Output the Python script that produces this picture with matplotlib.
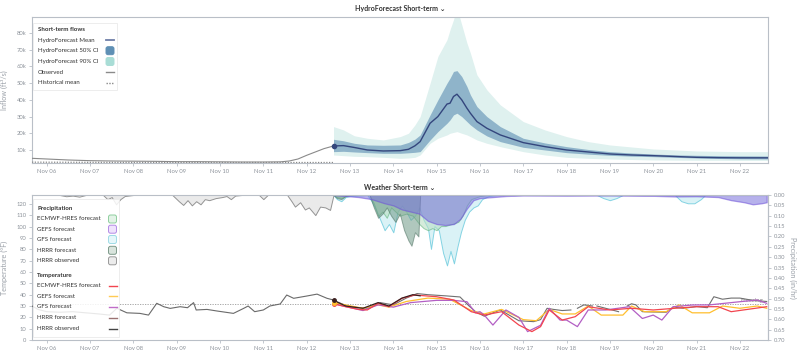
import matplotlib
matplotlib.use('Agg')
import matplotlib.pyplot as plt
import numpy as np
from matplotlib.lines import Line2D
from matplotlib.patches import Rectangle, FancyBboxPatch
from matplotlib.transforms import IdentityTransform
from matplotlib.ticker import FixedLocator, FuncFormatter

plt.rcParams['font.family'] = ['Lato', 'DejaVu Sans']

# ------------------------------------------------------------------ data
day_ticks = list(range(6, 23))
day_labels = [f"Nov {d:02d}" for d in day_ticks]
x_range = (5.66, 22.65)

# --- flows (ft3/s)
obs_flow_t = [5.66, 6.0, 6.5, 7.0, 7.5, 8.0, 8.5, 9.0, 9.5, 10.0, 10.5, 11.0, 11.4,
              11.6, 11.8, 12.0, 12.2, 12.4, 12.62]
obs_flow_v = [5000, 4600, 4000, 3600, 3400, 3300, 3200, 3000, 3000, 2900, 2800, 2800,
              2900, 3400, 4600, 6800, 8800, 10800, 12400]

hist_t = [5.66, 7.0, 8.5, 10.0, 11.5, 12.62]
hist_v = [2700, 2600, 2550, 2500, 2500, 2500]

fc_t = [12.62, 12.85, 13.1, 13.4, 13.77, 14.16, 14.35, 14.5, 14.62, 14.85, 15.03, 15.24,
        15.31, 15.39, 15.47, 15.58, 15.7, 15.78, 15.93, 16.16, 16.47, 17.0, 17.5, 18.0,
        18.5, 19.0, 19.5, 20.0, 20.5, 21.0, 21.5, 22.0, 22.65]
fc_mean = [12.4, 12.6, 11.5, 10.0, 9.4, 9.6, 10.4, 12.5, 15, 26, 30, 37.5, 38, 42, 43.4,
           40, 35, 32, 27, 23, 19, 14.4, 12, 10, 8.8, 7.6, 7.0, 6.6, 6.1, 5.6, 5.4, 5.3,
           5.3]
fc_p50_hi = [16.4, 15.5, 14, 13, 12.8, 13, 14.5, 16.5, 19, 31, 40, 50, 53, 57, 57.5, 54,
             48, 43, 36, 30, 24, 17, 14.2, 12, 10.3, 9.0, 8.2, 7.6, 7.1, 6.8, 6.6, 6.5,
             6.4]
fc_p50_lo = [9.0, 9.2, 8.8, 8.4, 8.0, 8.0, 8.3, 8.6, 9.0, 16, 21, 26, 28, 31, 32, 30, 27,
             25, 22, 18.4, 15, 11.6, 10, 8.4, 7.5, 6.8, 6.3, 6.0, 5.6, 5.2, 4.9, 4.7, 4.6]
fc_p90_hi = [24, 22, 18.5, 17, 16, 18, 20, 25, 30, 50, 66, 76, 82, 88, 95, 85, 74, 68, 55,
             46, 37, 27, 22, 18, 15, 13, 11.8, 10.6, 10, 9.4, 9.2, 9.0, 9.0]
fc_p90_lo = [7.0, 6.6, 6.2, 6.0, 5.6, 5.0, 5.2, 5.6, 7, 14, 17, 19, 20, 20.5, 21, 20, 19,
             18, 16, 14, 12, 9, 7, 5.6, 5.0, 4.6, 4.3, 4.0, 3.9, 3.8, 3.8, 3.7, 3.7]
flow_ticks = [10000, 20000, 30000, 40000, 50000, 60000, 70000, 80000]

# --- precipitation (in/hr)
hrrr_obs_p_t = [5.66, 6.3, 6.45, 6.6, 6.75, 6.9, 7.3, 7.4, 7.5, 7.6, 7.7, 7.8, 8.0, 8.9,
                9.05, 9.15, 9.25, 9.35, 9.45, 9.55, 9.65, 9.75, 9.9, 10.05, 10.15, 10.25,
                10.35, 10.5, 10.9, 11.0, 11.1, 11.55, 11.65, 11.73, 11.85, 11.96, 12.05,
                12.2, 12.31, 12.43, 12.54, 12.62]
hrrr_obs_p_v = [0, 0, 0.006, 0.003, 0.008, 0, 0, 0.02, 0.01, 0.045, 0.02, 0.005, 0, 0,
                0.03, 0.048, 0.025, 0.05, 0.03, 0.045, 0.02, 0.025, 0.015, 0.01, 0.005,
                0.02, 0.003, 0, 0, 0.02, 0, 0, 0.03, 0.056, 0.035, 0.07, 0.06, 0.097,
                0.056, 0.06, 0.072, 0]

gfs_p_t = [12.62, 12.7, 12.8, 12.9, 13.0, 13.4, 13.5, 13.6, 13.7, 13.8, 13.9, 14.0, 14.1,
           14.2, 14.3, 14.4, 14.5, 14.6, 14.7, 14.8, 14.87, 14.95, 15.05, 15.15, 15.24,
           15.32, 15.4, 15.48, 15.56, 15.65, 15.75, 15.85, 15.95, 16.05, 16.2, 16.4, 18.7,
           18.85, 19.0, 19.15, 19.3, 20.5, 20.65, 20.8, 20.95, 21.1, 21.2, 22.62]
gfs_p_v = [0, 0.02, 0.03, 0.01, 0.005, 0, 0.03, 0.07, 0.12, 0.17, 0.14, 0.18, 0.08, 0.05,
           0.08, 0.12, 0.1, 0.06, 0.12, 0.16, 0.26, 0.15, 0.17, 0.28, 0.34, 0.27, 0.33,
           0.25, 0.18, 0.12, 0.08, 0.06, 0.05, 0.02, 0.005, 0, 0, 0.015, 0.025, 0.015, 0,
           0, 0.03, 0.04, 0.04, 0.02, 0, 0]

ecmwf_p_t = [12.62, 12.7, 12.8, 12.9, 13.0, 13.45, 13.55, 13.65, 13.75, 13.85, 13.95,
             14.05, 14.15, 14.3, 14.45, 14.6, 14.7, 14.8, 14.9, 15.0, 15.1, 15.2, 15.35,
             15.5, 15.6, 15.7, 15.8, 16.0, 16.2, 22.62]
ecmwf_p_v = [0, 0.01, 0.015, 0.005, 0, 0, 0.04, 0.1, 0.08, 0.11, 0.06, 0.08, 0.1, 0.09,
             0.1, 0.14, 0.16, 0.17, 0.16, 0.17, 0.15, 0.15, 0.14, 0.13, 0.1, 0.05, 0.02,
             0.005, 0, 0]

hrrr_fc_p_t = [12.62, 12.7, 12.8, 12.9, 13.0, 13.45, 13.55, 13.65, 13.75, 13.85, 13.95,
               14.05, 14.15, 14.25, 14.35, 14.42, 14.5, 14.58, 14.62]
hrrr_fc_p_v = [0, 0.015, 0.02, 0.005, 0, 0, 0.06, 0.11, 0.09, 0.06, 0.1, 0.13, 0.09,
               0.17, 0.22, 0.245, 0.18, 0.2, 0]

gefs_p_t = [12.62, 12.8, 13.2, 13.5, 13.8, 14.0, 14.2, 14.4, 14.6, 14.8, 15.0, 15.2,
            15.4, 15.55, 15.7, 15.85, 16.0, 16.3, 16.6, 17.0, 18.0, 19.0, 20.0, 20.5,
            21.0, 21.5, 21.8, 22.1, 22.3, 22.5, 22.62]
gefs_p_v = [0, 0.003, 0.01, 0.02, 0.04, 0.05, 0.07, 0.08, 0.09, 0.125, 0.14, 0.145,
            0.14, 0.115, 0.065, 0.025, 0.015, 0.01, 0.005, 0.002, 0.003, 0.002, 0.004,
            0.007, 0.006, 0.01, 0.025, 0.035, 0.045, 0.04, 0.035]

# --- temperature (°F)
hrrr_obs_T_t = [5.66, 5.8, 6.0, 6.3, 6.6, 6.9, 7.2, 7.45, 7.62, 7.85, 8.15, 8.35, 8.54,
                8.7, 8.85, 9.08, 9.25, 9.39, 9.45, 9.7, 9.93, 10.31, 10.55, 10.65, 10.8,
                11.0, 11.15, 11.39, 11.54, 11.7, 12.0, 12.24, 12.47, 12.62]
hrrr_obs_T_v = [30, 27, 25, 24.5, 25, 24, 23, 22, 28, 24, 23.5, 22, 32.4, 29.4, 27.9,
                29.4, 28.5, 33, 26.5, 27, 25.6, 23.5, 28, 30, 25, 26.5, 30, 31.8, 39.7,
                36.8, 38.8, 40.5, 36.8, 35.3]

other_T_t = [12.62, 13.0, 13.4, 13.7, 14.0, 14.3, 14.55, 14.8, 15.2, 15.54, 15.75, 15.9,
             16.1, 16.47, 16.9, 17.24, 17.4, 17.55, 17.7, 17.9, 18.1, 18.15, 18.25, 18.4,
             18.6, 18.65, 18.7, 18.9, 19.2, 19.3, 19.4, 19.5, 19.6, 19.75, 20.0, 20.3,
             20.46, 20.7, 21.0, 21.25, 21.4, 21.6, 21.8, 22.0, 22.3, 22.62]
other_T_v = [35, 29, 28, 33, 31, 37, 41, 40, 39, 38, 30, 25, 21, 26.5, 17, 16.2, 18, 28,
             27, 26, 26.5, np.nan, 28, 31, 30, np.nan, 30, 28, 25, np.nan, 30, 32, 31,
             25, 24.7, 24.5, 29, 28, 29.5, 28.5, 38.2, 36, 37, 37, 35, 34]

ecmwf_T_t = [12.62, 12.9, 13.2, 13.4, 13.65, 13.9, 14.2, 14.5, 15.0, 15.4, 15.8, 16.1,
             16.5, 16.9, 17.2, 17.4, 17.6, 17.9, 18.2, 18.5, 19.0, 19.5, 20.0, 20.5, 21.0,
             21.5, 21.8, 22.62]
ecmwf_T_v = [32, 29.4, 27, 26.5, 32.4, 29.4, 36.8, 39.7, 38.2, 35.3, 25, 22, 25, 13.2,
             7.4, 11.8, 26.5, 17.6, 20.6, 29.4, 26.5, 28, 26.5, 28, 29.4, 29.4, 25, 29.4]

gefs_T_t = [12.62, 13.3, 13.65, 13.9, 14.3, 14.8, 15.3, 15.8, 16.1, 16.5, 17.0, 17.3,
            17.6, 17.9, 18.2, 18.5, 18.8, 19.3, 19.5, 19.8, 20.3, 20.6, 20.9, 21.3, 21.6,
            22.0, 22.4, 22.62]
gefs_T_v = [33, 28, 31, 29, 34, 37, 36, 26, 23, 27, 18, 17, 27, 23, 23, 30, 22, 22, 30,
            25, 25, 31, 24, 24, 30, 28, 30, 28]

gfs_T_t = [12.62, 13.3, 13.65, 14.0, 14.4, 15.0, 15.4, 15.7, 15.9, 16.0, 16.1, 16.3,
           16.6, 16.9, 17.1, 17.4, 17.6, 17.85, 18.0, 18.25, 18.5, 18.9, 19.45, 19.75,
           20.0, 20.2, 20.46, 20.9, 21.3, 22.0, 22.4, 22.62]
gfs_T_v = [32, 26, 31, 29, 33, 35, 35, 33.8, 24, 25, 22, 13.2, 26.5, 20, 7.4, 13, 28,
           17.6, 17.6, 11.8, 26.5, 26.5, 29.4, 19, 22, 17.6, 29.4, 30.9, 31, 33.8, 35.3,
           32.4]

hrrr_fc_T_t = [12.62, 12.9, 13.3, 13.65, 13.9, 14.2, 14.45, 14.62]
hrrr_fc_T_v = [35, 30, 28, 33, 30, 37, 40, 39]

temp_ticks = list(range(0, 121, 10))
precip_ticks = [round(0.05 * i, 2) for i in range(15)]
freezing_T = 32

top_legend_title = 'Short-term flows'
top_legend_labels = ['HydroForecast Mean', 'HydroForecast 50% CI', 'HydroForecast 90% CI',
                     'Observed', 'Historical mean']
bot_legend_prec = ['ECMWF-HRES forecast', 'GEFS forecast', 'GFS forecast',
                   'HRRR forecast', 'HRRR observed']
bot_legend_temp = ['ECMWF-HRES forecast', 'GEFS forecast', 'GFS forecast',
                   'HRRR forecast', 'HRRR observed']

# ------------------------------------------------------------------ style
W, H = 800, 359
fig = plt.figure(figsize=(W / 100, H / 100), dpi=100)
spine_c = '#b9bfc7'
tick_c = '#8c929a'
lab_c = '#9aa0a8'
txt_c = '#333333'
fs_tick = 4.2
fs_leg = 4.45
PIX = IdentityTransform()


def px_axes(l, t, r, b):
    return fig.add_axes([l / W, 1 - b / H, (r - l) / W, (b - t) / H])


def style_axes(ax):
    for s in ax.spines.values():
        s.set_color(spine_c)
        s.set_linewidth(0.8)
    ax.tick_params(axis='both', colors=spine_c, labelcolor=tick_c, labelsize=fs_tick,
                   length=2.5, width=0.6, pad=1.5)
    ax.set_xlim(*x_range)
    ax.xaxis.set_major_locator(FixedLocator(day_ticks))
    ax.set_xticklabels(day_labels)


def leg_box(x0, y0, x1, y1, alpha):
    fig.add_artist(Rectangle((x0, H - y1), x1 - x0, y1 - y0, transform=PIX,
                             facecolor=(1, 1, 1, alpha), edgecolor='#eaeaea', lw=0.6,
                             zorder=10))


def leg_text(x, y, s, bold=False):
    fig.text(x / W, 1 - y / H, s, ha='left', va='center', fontsize=fs_leg,
             fontweight='bold' if bold else 'normal', color=txt_c, zorder=11)


def leg_square(cx, cy, fc, ec, size=8, lw=0.7):
    fig.add_artist(FancyBboxPatch((cx - size / 2, H - cy - size / 2), size, size,
                                  boxstyle='round,pad=0,rounding_size=2', transform=PIX,
                                  facecolor=fc, edgecolor=ec, lw=lw, zorder=11))


def leg_line(cx, cy, color, ls='-', lw=1.0, half=4):
    fig.add_artist(Line2D([cx - half, cx + half], [H - cy, H - cy], transform=PIX,
                          color=color, lw=lw, ls=ls, zorder=11))


# ------------------------------------------------------------------ top panel
ax1 = px_axes(32, 17, 768, 163)
style_axes(ax1)
fk = [v * 1000 for v in fc_mean]
ax1.fill_between(fc_t, [v * 1000 for v in fc_p90_lo], [v * 1000 for v in fc_p90_hi],
                 color='#dff1ef', lw=0, zorder=1)
ax1.fill_between(fc_t, [v * 1000 for v in fc_p50_lo], [v * 1000 for v in fc_p50_hi],
                 color='#8fb4ca', lw=0, zorder=2)
ax1.plot(hist_t, hist_v, color='#8a8a8a', lw=0.9, ls=(0, (1, 1.2)), zorder=3)
ax1.plot(obs_flow_t, obs_flow_v, color='#8a8a8a', lw=0.8, zorder=4)
ax1.plot(fc_t, fk, color='#34467d', lw=1.0, zorder=5)
ax1.plot(fc_t[:1], fk[:1], 'o', color='#34467d', ms=3, zorder=6)
ax1.set_ylim(2200, 89600)
ax1.yaxis.set_major_locator(FixedLocator(flow_ticks))
ax1.yaxis.set_major_formatter(FuncFormatter(lambda v, p: f"{v / 1000:.0f}k"))
ax1.set_ylabel('Inflow (ft³/s)', color=lab_c, fontsize=5.2, labelpad=6)

leg_box(33, 23, 117, 90, 1.0)
leg_text(38, 29.5, top_legend_title, bold=True)
rows = [40.3, 50.7, 61.5, 72.3, 83.0]
for y, lab in zip(rows, top_legend_labels):
    leg_text(38, y, lab)
leg_line(110, rows[0], '#6f7fa8', lw=1.3)
leg_square(110, rows[1], '#5f90b5', '#5f90b5')
leg_square(110, rows[2], '#a9ddd6', '#a9ddd6')
leg_line(110, rows[3], '#8a8a8a', lw=1.0)
leg_line(110, rows[4], '#8a8a8a', ls=(0, (1, 1)), lw=1.0)

fig.text(0.5, 1 - 8 / H, 'HydroForecast Short-term ⌄', ha='center', va='center',
         fontsize=5.0, fontweight='bold', color=txt_c)

# ------------------------------------------------------------------ bottom panel
ax2 = px_axes(32, 195, 768, 340)
style_axes(ax2)
ax2.set_ylim(0, 128)
ax2.yaxis.set_major_locator(FixedLocator(temp_ticks))
ax2.set_ylabel('Temperature (°F)', color=lab_c, fontsize=5.2, labelpad=6)

ax3 = ax2.twinx()
for s in ax3.spines.values():
    s.set_visible(False)
ax3.spines['right'].set_visible(True)
ax3.spines['right'].set_color(spine_c)
ax3.spines['right'].set_linewidth(0.8)
ax3.tick_params(axis='y', colors=spine_c, labelcolor=tick_c, labelsize=fs_tick,
                length=2.5, width=0.6, pad=1.5)
ax3.set_ylim(0.70, 0.0)
ax3.yaxis.set_major_locator(FixedLocator(precip_ticks))
ax3.yaxis.set_major_formatter(FuncFormatter(lambda v, p: f"{v:.2f}"))
ax3.set_ylabel('Precipitation (in/hr)', color=lab_c, fontsize=5.2, rotation=270,
               labelpad=8)
ax3.set_xlim(*x_range)

# precipitation fills
ax3.fill_between(hrrr_obs_p_t, 0, hrrr_obs_p_v, color='#e9e9e9', alpha=0.95,
                 edgecolor='#8e8e8e', lw=0.7, zorder=1)
ax3.fill_between(gfs_p_t, 0, gfs_p_v, facecolor='#d6f1f6', alpha=0.9,
                 edgecolor='#78cfe0', lw=0.7, zorder=2)
ax3.fill_between(ecmwf_p_t, 0, ecmwf_p_v, facecolor='#b9dfc4', alpha=0.6,
                 edgecolor='#5fb37c', lw=0.7, zorder=3)
ax3.fill_between(hrrr_fc_p_t, 0, hrrr_fc_p_v, facecolor='#6f9a88', alpha=0.55,
                 edgecolor='#4c6f60', lw=0.7, zorder=4)
ax3.fill_between(gefs_p_t, 0, gefs_p_v, facecolor='#7a72dc', alpha=0.55,
                 edgecolor='#6d4fd8', lw=0.9, zorder=5)

# temperature lines
ax3.set_zorder(ax2.get_zorder() - 1)
ax2.patch.set_visible(False)
ax2.axhline(freezing_T, color='#9a9a9a', lw=0.6, ls=(0, (1.5, 1.5)), zorder=1)
ax2.text(22.55, freezing_T + 0.5, 'Freezing', ha='right', va='bottom', fontsize=4.4,
         color='#8a8a8a')
ax2.plot(hrrr_obs_T_t, hrrr_obs_T_v, color='#6a6a6a', lw=0.8, zorder=3)
ax2.plot(other_T_t, other_T_v, color='#707070', lw=0.8, zorder=3)
ax2.plot(gefs_T_t, gefs_T_v, color='#ffbf2e', lw=0.9, zorder=4)
ax2.plot(gfs_T_t, gfs_T_v, color='#b35fc4', lw=0.9, zorder=5)
ax2.plot(ecmwf_T_t, ecmwf_T_v, color='#f2454f', lw=0.9, zorder=6)
ax2.plot(hrrr_fc_T_t, hrrr_fc_T_v, color='#3a1f1f', lw=0.9, zorder=7)
for tt, vv, cc in [(ecmwf_T_t, ecmwf_T_v, '#f2454f'), (gefs_T_t, gefs_T_v, '#ffbf2e'),
                   (hrrr_fc_T_t, hrrr_fc_T_v, '#3a1f1f')]:
    ax2.plot(tt[:1], vv[:1], 'o', color=cc, ms=2.5, zorder=8)

fig.text(0.5, 1 - 187 / H, 'Weather Short-term ⌄', ha='center', va='center',
         fontsize=5.0, fontweight='bold', color=txt_c)

leg_box(33, 199, 119, 337, 0.85)
leg_text(37, 208.3, 'Precipitation', bold=True)
prow = [219.0, 229.2, 239.5, 250.3, 260.8]
sq_style = [('#e3f3e7', '#8fcf9f'), ('#efe3fc', '#b48be6'), ('#e6f7fa', '#9fdbe6'),
            ('#d9e4dd', '#7d9a8a'), ('#ececec', '#9a9a9a')]
for y, lab, (fc, ec) in zip(prow, bot_legend_prec, sq_style):
    leg_text(37, y, lab)
    leg_square(112.5, y, fc, ec)
leg_text(37, 275, 'Temperature', bold=True)
trow = [285.7, 296.2, 306.8, 317.5, 328.5]
line_cols = ['#f2454f', '#ffcb55', '#c06cc8', '#9a7272', '#444444']
for y, lab, c in zip(trow, bot_legend_temp, line_cols):
    leg_text(37, y, lab)
    leg_line(113, y, c, lw=1.0)

fig.savefig('out.png', dpi=100)
